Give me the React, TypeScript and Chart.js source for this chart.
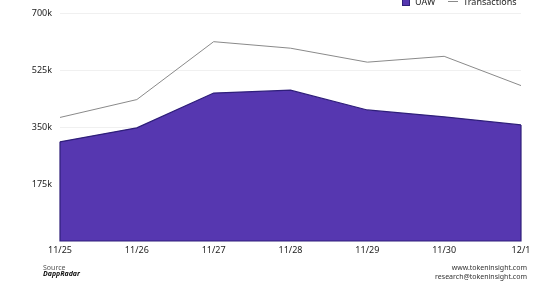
import React, { useEffect, useRef } from "react";
import { Chart, registerables } from "chart.js";

Chart.register(...registerables);

const categories = ["11/25", "11/26", "11/27", "11/28", "11/29", "11/30", "12/1"];
const uawValues = [305000, 348000, 455000, 464000, 403000, 382000, 357000];
const transactionValues = [380000, 435000, 613000, 593000, 550000, 568000, 478000];
const yTicks = [175000, 350000, 525000, 700000];

const FILL = "#5637b0";
const EDGE = "#2f1f7a";
const LINE = "#8a8a8a";
const FONT = "'Noto Sans', 'DejaVu Sans', sans-serif";

const edgePlugin = {
  id: "edges",
  afterDatasetsDraw(chart: any) {
    const meta = chart.getDatasetMeta(0);
    const pts = meta.data;
    if (!pts.length) return;
    const y0 = chart.scales.y.getPixelForValue(0);
    const ctx = chart.ctx;
    ctx.save();
    ctx.strokeStyle = EDGE;
    ctx.lineWidth = 1.2;
    ctx.beginPath();
    ctx.moveTo(pts[0].x, pts[0].y);
    ctx.lineTo(pts[0].x, y0);
    ctx.lineTo(pts[pts.length - 1].x, y0);
    ctx.lineTo(pts[pts.length - 1].x, pts[pts.length - 1].y);
    ctx.stroke();
    ctx.restore();
  },
};

export default function App() {
  const ref = useRef<HTMLCanvasElement | null>(null);

  useEffect(() => {
    document.body.style.margin = "0";
    const chart = new Chart(ref.current!, {
      type: "line",
      data: {
        labels: categories,
        datasets: [
          {
            label: "UAW",
            data: uawValues,
            fill: "origin",
            backgroundColor: FILL,
            borderColor: EDGE,
            borderWidth: 1.2,
            pointRadius: 0,
            tension: 0,
            order: 2,
          },
          {
            label: "Transactions",
            data: transactionValues,
            fill: false,
            borderColor: LINE,
            borderWidth: 1,
            pointRadius: 0,
            tension: 0,
            order: 1,
          },
        ],
      },
      options: {
        animation: false,
        responsive: false,
        maintainAspectRatio: false,
        layout: { padding: { top: 12, right: 14, left: 0, bottom: 0 } },
        plugins: {
          legend: { display: false },
          tooltip: { enabled: false },
        },
        scales: {
          x: {
            offset: false,
            grid: { display: false, drawTicks: false },
            border: { display: false },
            ticks: {
              color: "#222",
              font: { family: FONT, size: 9 },
              padding: 4,
              maxRotation: 0,
              autoSkip: false,
            },
            afterFit(scale: any) {
              scale.height = 51;
            },
          },
          y: {
            min: 0,
            max: 700000,
            afterBuildTicks(scale: any) {
              scale.ticks = [{ value: 0 }, ...yTicks.map((v) => ({ value: v }))];
            },
            grid: {
              color: (c: any) => (c.tick && c.tick.value === 0 ? "rgba(0,0,0,0)" : "#f0f0f0"),
              drawTicks: false,
              lineWidth: 1,
            },
            border: { display: false },
            ticks: {
              color: "#222",
              font: { family: FONT, size: 9 },
              padding: 8,
              callback: (v: any) => (Number(v) === 0 ? "" : `${Number(v) / 1000}k`),
            },
            afterFit(scale: any) {
              scale.width = 60;
            },
          },
        },
      },
      plugins: [edgePlugin],
    });
    return () => chart.destroy();
  }, []);

  const small: React.CSSProperties = {
    position: "absolute",
    fontFamily: FONT,
    fontSize: 7,
    lineHeight: "9px",
    color: "#333",
    whiteSpace: "nowrap",
  };

  return (
    <div style={{ position: "relative", width: 535, height: 292, overflow: "hidden", background: "#fff" }}>
      <canvas ref={ref} width={535} height={292} style={{ display: "block" }} />
      <div
        style={{
          position: "absolute",
          top: -5,
          left: 402,
          display: "flex",
          alignItems: "center",
          fontFamily: FONT,
          fontSize: 9,
          color: "#222",
          whiteSpace: "nowrap",
        }}
      >
        <span style={{ display: "inline-block", width: 6, height: 6, background: FILL, border: `1px solid ${EDGE}`, marginRight: 5 }} />
        <span style={{ marginRight: 13 }}>UAW</span>
        <span style={{ display: "inline-block", width: 10, height: 1, background: LINE, marginRight: 5 }} />
        <span>Transactions</span>
      </div>
      <div style={{ ...small, left: 43, top: 263, color: "#555" }}>Source</div>
      <div style={{ ...small, left: 43, top: 269, fontWeight: 700, fontStyle: "italic", color: "#111" }}>DappRadar</div>
      <div style={{ ...small, right: 8, top: 263, textAlign: "right" }}>www.tokeninsight.com</div>
      <div style={{ ...small, right: 8, top: 272, textAlign: "right" }}>research@tokeninsight.com</div>
    </div>
  );
}
